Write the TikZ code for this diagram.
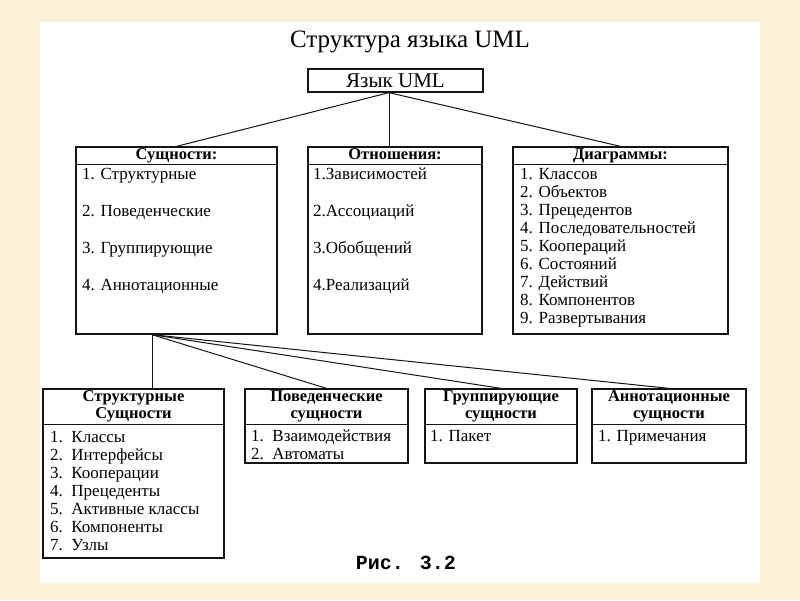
\documentclass[tikz,border=0pt]{standalone}
\usepackage{fontspec}
\setmainfont{Liberation Serif}
\newfontfamily\capfont{Liberation Mono}
\usetikzlibrary{positioning,calc}
\definecolor{umlpaper}{RGB}{251,240,216}
\definecolor{umlink}{RGB}{20,20,20}

\begin{document}
\begin{tikzpicture}[
  x=1pt, y=-1pt,
  frame/.style={rectangle, draw=umlink, line width=1.3pt, inner sep=0pt},
  sep/.style={draw=umlink, line width=1.2pt},
  head/.style={font=\fontsize{16.5}{17}\selectfont\bfseries, align=center, inner sep=0pt},
  onehead/.style={head, text height=11pt, text depth=3pt},
  items/.style={font=\fontsize{17}{18}\selectfont, align=left, anchor=north west, inner sep=0pt},
  link/.style={draw=umlink, line width=1pt}
]

% Page
\useasboundingbox[fill=umlpaper] (0,0) rectangle (800,600);
\fill[white] (40,22) rectangle (760,583);

% Title
\node[font=\fontsize{25}{27}\selectfont] (title) at (410,42) {Структура языка UML};

% Layer 1 - Language
\node[frame, minimum width=175pt, minimum height=23pt, font=\fontsize{21}{22}\selectfont] (lang) at (395.5,80.5) {Язык UML};

% Layer 2 - Entities, relations, diagrams
\node[frame, minimum width=201pt, minimum height=187pt] (ent) at (176.5,240.5) {};
\node[onehead] (enthead) at ([yshift=-9pt]ent.north) {Сущности:};
\draw[sep] ([yshift=-18pt]ent.north west) -- ([yshift=-18pt]ent.north east);
\node[items] (entitems) at (82,168) {1. Структурные\\[19pt]2. Поведенческие\\[19pt]3. Группирующие\\[19pt]4. Аннотационные};

\node[frame, minimum width=174pt, minimum height=187pt] (rel) at (395,240.5) {};
\node[onehead] (relhead) at ([yshift=-9pt]rel.north) {Отношения:};
\draw[sep] ([yshift=-18pt]rel.north west) -- ([yshift=-18pt]rel.north east);
\node[items] (relitems) at (313,168) {1.Зависимостей\\[19pt]2.Ассоциаций\\[19pt]3.Обобщений\\[19pt]4.Реализаций};

\node[frame, minimum width=215pt, minimum height=187pt] (diag) at (620.5,240.5) {};
\node[onehead] (diaghead) at ([yshift=-9pt]diag.north) {Диаграммы:};
\draw[sep] ([yshift=-18pt]diag.north west) -- ([yshift=-18pt]diag.north east);
\node[items] (diagitems) at (520,168) {1. Классов\\2. Объектов\\3. Прецедентов\\4. Последовательностей\\5. Коопераций\\6. Состояний\\7. Действий\\8. Компонентов\\9. Развертывания};

% Layer 3 - Kinds of entities
\node[frame, minimum width=181pt, minimum height=169pt] (struct) at (133.5,473.5) {};
\node[head] (structhead) at ([yshift=-18pt]struct.north) {Структурные\\Сущности};
\draw[sep] ([yshift=-36pt]struct.north west) -- ([yshift=-36pt]struct.north east);
\node[items] (structitems) at (50,431) {1.\enskip Классы\\2.\enskip Интерфейсы\\3.\enskip Кооперации\\4.\enskip Прецеденты\\5.\enskip Активные классы\\6.\enskip Компоненты\\7.\enskip Узлы};

\node[frame, minimum width=163pt, minimum height=74pt] (behav) at (326.5,426) {};
\node[head] (behavhead) at ([yshift=-18pt]behav.north) {Поведенческие\\сущности};
\draw[sep] ([yshift=-36pt]behav.north west) -- ([yshift=-36pt]behav.north east);
\node[items] (behavitems) at (251,430) {1.\enskip Взаимодействия\\2.\enskip Автоматы};

\node[frame, minimum width=152pt, minimum height=74pt] (group) at (501,426) {};
\node[head] (grouphead) at ([yshift=-18pt]group.north) {Группирующие\\сущности};
\draw[sep] ([yshift=-36pt]group.north west) -- ([yshift=-36pt]group.north east);
\node[items] (groupitems) at (430,430) {1. Пакет};

\node[frame, minimum width=154pt, minimum height=74pt] (annot) at (669,426) {};
\node[head] (annothead) at ([yshift=-18pt]annot.north) {Аннотационные\\сущности};
\draw[sep] ([yshift=-36pt]annot.north west) -- ([yshift=-36pt]annot.north east);
\node[items] (annotitems) at (598,430) {1. Примечания};

% Connectors
\coordinate (langfoot) at ([xshift=-6.5pt]lang.south);
\draw[link] (langfoot) -- (ent.north);
\draw[link] (langfoot) -- (langfoot |- rel.north);
\draw[link] (langfoot) -- (diag.north);

\coordinate (entfoot) at ([xshift=-24.5pt]ent.south);
\draw[link] (entfoot) -- (entfoot |- struct.north);
\draw[link] (entfoot) -- (behav.north);
\draw[link] (entfoot) -- (group.north);
\draw[link] (entfoot) -- (annot.north);

% Caption
\node[font=\capfont\fontsize{20}{22}\selectfont\bfseries] (fig) at (406,563) {Рис. 3.2};

\end{tikzpicture}
\end{document}
